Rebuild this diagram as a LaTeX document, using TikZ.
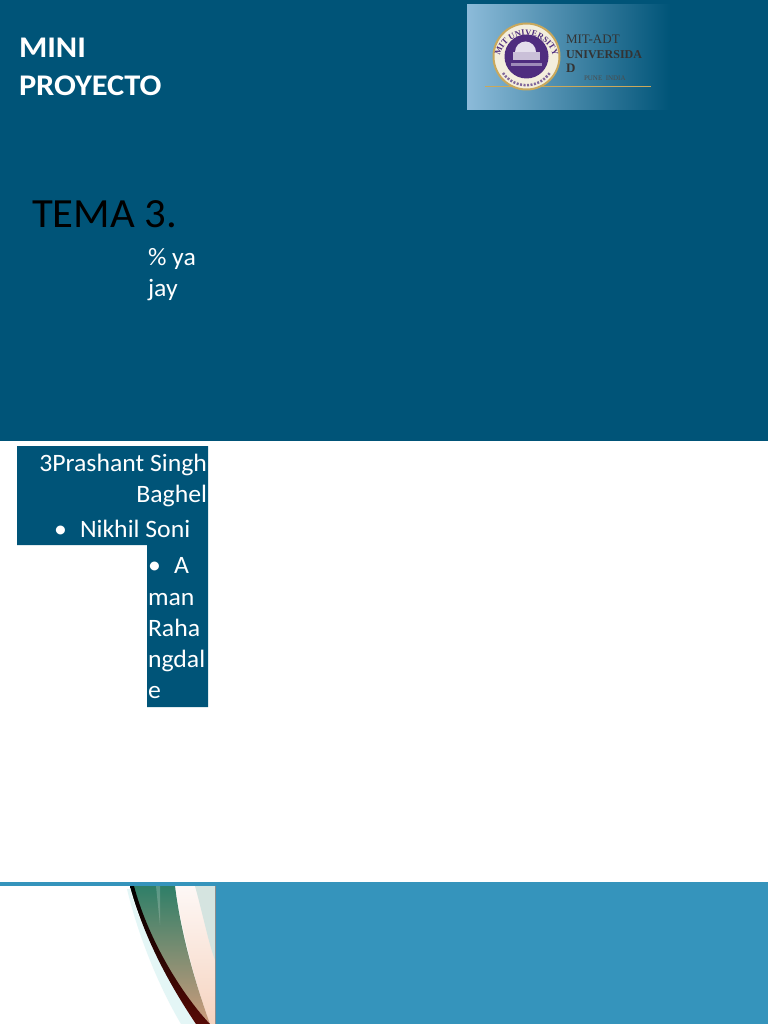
\documentclass[tikz,border=0pt]{standalone}
\usepackage{fontspec}
\setmainfont{Carlito}
\newfontfamily\widefont[FakeStretch=1.03]{Carlito}
\newfontfamily\headfont[FakeStretch=1.08]{Carlito}
\newfontfamily\logofont{Liberation Serif}
\usetikzlibrary{decorations.text}
\definecolor{deepblue}{HTML}{005478}
\definecolor{bandblue}{HTML}{3594BC}
\definecolor{logolight}{HTML}{8CBBD9}
\definecolor{sealpurple}{HTML}{4F2D7F}
\definecolor{sealgold}{HTML}{C9A85C}
\definecolor{sealcream}{HTML}{F3EEDD}
\definecolor{curlgreen}{HTML}{2F7F68}
\definecolor{curlolive}{HTML}{7D7A58}
\definecolor{curlbrown}{HTML}{CF9C7C}
\definecolor{curlpink}{HTML}{FBEDE8}
\definecolor{curlpeach}{HTML}{F6D3BF}
\definecolor{curlgrey}{HTML}{D5E4E0}
\definecolor{curlcyan}{HTML}{E4F6F6}
\definecolor{curlred}{HTML}{560A05}

\tikzset{
  panel/.style={fill=deepblue, draw=none},
  titletext/.style={anchor=base west, text=white, font=\headfont\fontsize{30}{30}\selectfont\bfseries},
  bodyleft/.style={anchor=base west, text=white, font=\widefont\fontsize{25}{25}\selectfont},
  bodyright/.style={anchor=base east, text=white, font=\widefont\fontsize{25}{25}\selectfont},
  logotext/.style={anchor=base west, text=black!80, font=\logofont\fontsize{13}{13}\selectfont},
  every node/.append style={inner sep=0pt, outer sep=0pt}
}

\begin{document}
\begin{tikzpicture}[x=1pt, y=-1pt]
  \useasboundingbox (0,0) rectangle (768,1024);

  % top panel
  \fill[panel] (0,0) rectangle (768,441);
  \node[titletext] (mini) at (19,58) {MINI};
  \node[titletext] (proyecto) at (19,96) {PROYECTO};
  \node[anchor=base west, text=black, font=\widefont\fontsize{41.5}{41.5}\selectfont] (tema) at (32,227) {TEMA 3.};
  \node[bodyleft] (ya) at (148,265) {\% ya};
  \node[bodyleft] (jay) at (148,296) {jay};

  % logo
  \shade[left color=logolight, right color=deepblue] (467,5) rectangle (670,110);
  \draw[sealgold, line width=0.8pt] (485,86) -- (651,86);
  \fill[sealcream, draw=sealgold, line width=2pt] (526.5,56.5) circle (33);
  \fill[sealpurple] (526.5,56.5) circle (22);
  \fill[white!85!sealpurple] (515,52) arc (180:360:10.5) -- cycle;
  \fill[white!70!sealpurple] (513,52) rectangle (540,60);
  \fill[white!45!sealpurple] (511,63) rectangle (542,66);
  \path[decorate, decoration={text along path, text align=center,
      text={|\logofont\fontsize{8.5}{8.5}\selectfont\bfseries\color{sealpurple}|MIT UNIVERSITY}}]
    (499.2,60) arc (186:354:27.5);
  \draw[sealpurple!70!sealcream, line width=2.5pt, dash pattern=on 2pt off 1.5pt] (503,73) arc (145:35:28.5);
  \node[logotext] (mitadt) at (566,44) {MIT-ADT};
  \node[logotext, font=\logofont\fontsize{12}{12}\selectfont\bfseries] (universida) at (566,59) {UNIVERSIDA};
  \node[logotext, font=\logofont\fontsize{13}{13}\selectfont\bfseries] (letterd) at (566,73) {D};
  \node[anchor=base west, text=black!70, font=\logofont\fontsize{7}{7}\selectfont] (pune) at (584,80.5) {PUNE\ \ INDIA};

  % names
  \fill[panel] (17,446) -| (208,707) -| (147,545) -| cycle;
  \node[bodyright] (prashant) at (207,471) {3Prashant Singh};
  \node[bodyright] (baghel) at (207,502) {Baghel};
  \node[bodyleft] (bulleta) at (54,537) {•};
  \node[bodyleft] (nikhil) at (80,537) {Nikhil Soni};
  \node[bodyleft] (bulletb) at (148,573) {•};
  \node[bodyleft] (aletter) at (174,573) {A};
  \node[bodyleft] (man) at (148,605) {man};
  \node[bodyleft] (raha) at (148,636) {Raha};
  \node[bodyleft] (ngdal) at (148,667) {ngdal};
  \node[bodyleft] (eletter) at (148,698) {e};

  % bottom band
  \fill[bandblue] (0,882) rectangle (768,1024);
  \fill[white] (0,886) rectangle (215,1024);

  % curl
  \fill[curlcyan] (127,889) .. controls (138,935) and (158,985) .. (181,1024) -- (205,1024) .. controls (172,985) and (142,935) .. (130,889) -- cycle;
  \shade[top color=curlpink!40, bottom color=curlpeach] (175,886) .. controls (182,930) and (194,980) .. (210,1024) -- (215,1024) -- (215,886) -- cycle;
  \fill[curlgrey] (195,886) .. controls (203,915) and (209,945) .. (215,960) -- (215,886) -- cycle;
  \shade[top color=curlgreen, middle color=curlolive, bottom color=curlbrown]
    (130,886) .. controls (143,935) and (170,980) .. (210,1024) .. controls (196,985) and (181,935) .. (175,886) -- cycle;
  \fill[white, opacity=0.2] (156,886) -- (160,886) -- (160,925) -- cycle;
  \shade[top color=black, middle color=black, bottom color=curlred]
    (130,886) .. controls (142,930) and (163,975) .. (196,1024) -- (210,1024) .. controls (178,990) and (147,935) .. (134,886) -- cycle;
  \draw[black!45, line width=0.8pt] (215.5,886) -- (215.5,1024);
\end{tikzpicture}
\end{document}
